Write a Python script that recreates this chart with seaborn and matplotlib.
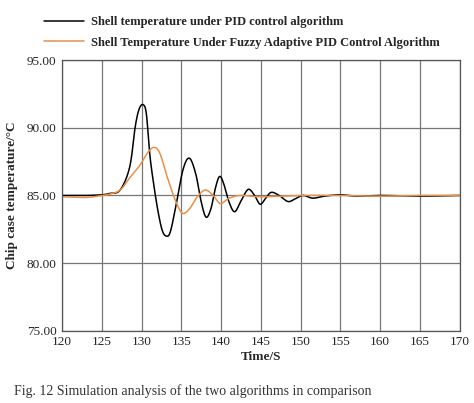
import numpy as np
import pandas as pd
import matplotlib
matplotlib.use("Agg")
import matplotlib.pyplot as plt
import seaborn as sns

pid_t = [120, 123, 125, 126, 127.3, 128.5, 129.2, 129.7, 130.2, 130.6, 131.05, 131.6, 132.1, 132.6, 133.1, 133.6,
         134.3, 135.2, 136.0, 136.8, 137.5, 138.1, 138.7, 139.3, 139.8, 140.3, 141.0, 141.7, 142.5, 143.4,
         144.2, 144.9, 145.6, 146.3, 147.3, 148.4, 149.3, 150.3, 151.5, 153, 155, 157, 160, 165, 170]
pid_v = [85.0, 85.0, 85.05, 85.15, 85.4, 87.1, 90.1, 91.4, 91.7, 91.0, 87.9, 85.5, 83.7, 82.4, 82.0, 82.3,
         84.2, 86.9, 87.75, 86.6, 84.5, 83.4, 84.0, 85.6, 86.4, 85.9, 84.5, 83.8, 84.6, 85.45,
         85.0, 84.35, 84.8, 85.23, 85.0, 84.55, 84.75, 85.0, 84.8, 84.95, 85.05, 84.95, 85.0, 84.95, 85.0]
fz_t = [120, 123, 125, 126, 127.3, 128.5, 129.8, 130.8, 131.6, 132.3, 133.2, 134.2, 135.1, 136.0, 137.0,
        138.0, 139.0, 139.9, 141, 142.5, 145, 150, 155, 160, 165, 170]
fz_v = [84.9, 84.85, 85.0, 85.1, 85.4, 86.3, 87.25, 88.2, 88.55, 88.1, 86.4, 84.7, 83.7, 84.0, 84.9,
        85.4, 85.0, 84.4, 84.8, 85.0, 84.9, 85.0, 85.0, 84.95, 85.0, 85.0]
labels = ["Shell temperature under PID control algorithm",
          "Shell Temperature Under Fuzzy Adaptive PID Control Algorithm"]

def smooth(t, v, n=12):
    t = np.asarray(t, float); v = np.asarray(v, float)
    P = np.column_stack([t, v])
    P = np.vstack([P[0], P, P[-1]])
    out = []
    for i in range(1, len(P) - 2):
        p0, p1, p2, p3 = P[i-1], P[i], P[i+1], P[i+2]
        for s in np.linspace(0, 1, n, endpoint=False):
            out.append(0.5 * ((2*p1) + (-p0+p2)*s + (2*p0-5*p1+4*p2-p3)*s**2 + (-p0+3*p1-3*p2+p3)*s**3))
    out.append(P[-2])
    out = np.array(out)
    return out[:, 0], out[:, 1]

sns.set_style("white")
plt.rcParams['font.family'] = ['Liberation Serif', 'DejaVu Serif']

fig = plt.figure(figsize=(4.74, 4.03), dpi=100)
ax = fig.add_axes([0.131, 0.179, 0.839, 0.672])
x1, y1 = smooth(pid_t, pid_v)
x2, y2 = smooth(fz_t, fz_v)
df1 = pd.DataFrame({"t": x1, "v": y1}); df2 = pd.DataFrame({"t": x2, "v": y2})
sns.lineplot(data=df1, x="t", y="v", ax=ax, color="black", lw=1.1, sort=False, label=labels[0])
sns.lineplot(data=df2, x="t", y="v", ax=ax, color="#e8904a", lw=1.1, sort=False, label=labels[1])
ax.set_xlim(120, 170); ax.set_ylim(75, 95)
ax.set_xticks(range(120, 171, 5)); ax.set_yticks([75, 80, 85, 90, 95])
ax.set_yticklabels([f"{v:.2f}" for v in [75, 80, 85, 90, 95]])
ax.grid(True, color="#777777", lw=0.9)
ax.set_axisbelow(True)
for s in ax.spines.values():
    s.set_color("#555555"); s.set_linewidth(0.9)
ax.tick_params(labelsize=9.5, length=0, pad=4)
ax.set_xlabel("Time/S", fontweight="bold", fontsize=9.5, labelpad=2)
ax.set_ylabel("Chip case temperature/°C", fontweight="bold", fontsize=9.5, labelpad=6)
ax.legend(loc="lower left", bbox_to_anchor=(-0.075, 1.0), frameon=False,
          prop={"weight": "bold", "size": 9}, handlelength=3.2, handletextpad=0.6, labelspacing=0.7)
fig.text(0.03, 0.02, "Fig. 12 Simulation analysis of the two algorithms in comparison",
         fontsize=10, color="#333333")
fig.savefig("out.png", dpi=100)
